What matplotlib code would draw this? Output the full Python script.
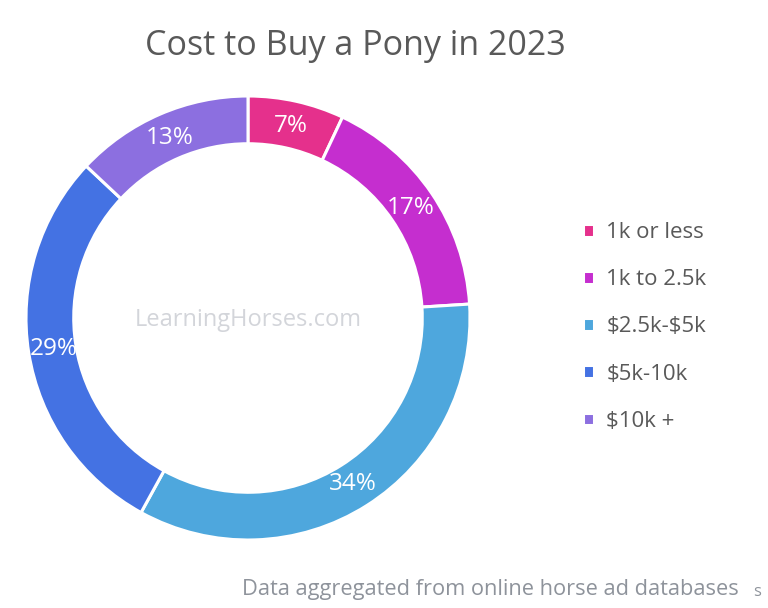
import matplotlib
matplotlib.use("Agg")
import matplotlib.pyplot as plt

# pony prices, share of ads in 2023
labels = ["1k or less", "1k to 2.5k", r"\$2.5k-\$5k", r"\$5k-10k", r"\$10k +"]
shares = [7, 17, 34, 29, 13]
colors = ["#E5308C", "#C52ECF", "#4EA7DD", "#4472E3", "#8C6FE0"]

plt.rcParams['font.family'] = ['Open Sans', 'DejaVu Sans']

fig = plt.figure(figsize=(7.68, 6.08), dpi=100)
ax = fig.add_axes([26 / 768, 68 / 608, 444 / 768, 444 / 608])

wedges, texts, autotexts = ax.pie(
    shares, colors=colors, startangle=90, counterclock=False,
    autopct="%d%%", pctdistance=0.885,
    wedgeprops=dict(width=0.215, edgecolor="white", linewidth=2.2),
    textprops=dict(color="white", fontsize=17.5))
ax.set_xlim(-1, 1)
ax.set_ylim(-1, 1)
ax.set_aspect("equal")

ax.text(0, -0.01, "LearningHorses.com", ha="center", va="center",
        fontsize=17, color="#D3D5DA")

fig.text(355 / 768, 1 - 46 / 608, "Cost to Buy a Pony in 2023", ha="center",
         va="center", fontsize=24.5, color="#595959")

leg = fig.legend(wedges, labels, loc="center left",
                 bbox_to_anchor=(563 / 768, 1 - 327 / 608), frameon=False,
                 fontsize=16, labelcolor="#595959", handlelength=0.5,
                 handleheight=0.5, handletextpad=0.55, labelspacing=1.18)

fig.text(242 / 768, 1 - 589 / 608, "Data aggregated from online horse ad databases",
         ha="left", va="center", fontsize=15.7, color="#8E939B")
fig.text(753 / 768, 1 - 592 / 608, "s", ha="left", va="center",
         fontsize=12, color="#8E939B")

fig.savefig("out.png", dpi=100)
